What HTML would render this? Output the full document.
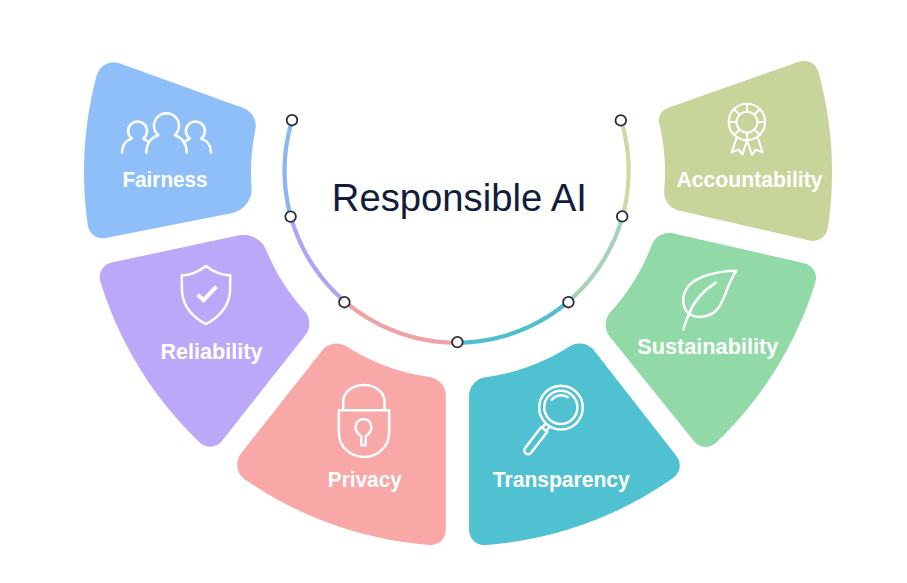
<!DOCTYPE html>
<html><head><meta charset="utf-8">
<style>
html,body{margin:0;padding:0;background:#fff;}
body{width:907px;height:583px;overflow:hidden;}
svg{display:block;}
text{font-family:"Liberation Sans",sans-serif;}
</style></head><body>
<svg width="907" height="583" viewBox="0 0 907 583">
<rect width="907" height="583" fill="#fff"/>
<path fill="#8ebff8" d="M231.4 213.3 L105.5 237.9 L105.5 237.9 L104.0 238.1 L102.5 238.2 L101.0 238.1 L99.5 237.9 L98.0 237.5 L96.6 236.9 L95.3 236.2 L94.0 235.4 L92.8 234.5 L91.7 233.4 L90.7 232.3 L89.9 231.0 L89.1 229.7 L88.6 228.3 L88.1 226.8 L87.8 225.3 L87.8 225.3 L87.6 223.8 L87.4 222.3 L87.2 220.8 L87.0 219.3 L86.8 217.8 L86.6 216.4 L86.5 214.9 L86.3 213.4 L86.1 211.9 L86.0 210.4 L85.8 208.9 L85.7 207.3 L85.5 205.8 L85.4 204.3 L85.3 202.8 L85.2 201.3 L85.0 199.8 L84.9 198.3 L84.8 196.8 L84.7 195.3 L84.6 193.8 L84.6 192.3 L84.5 190.8 L84.4 189.3 L84.3 187.8 L84.3 186.3 L84.2 184.8 L84.2 183.3 L84.1 181.7 L84.1 180.2 L84.1 178.7 L84.0 177.2 L84.0 175.7 L84.0 174.2 L84.0 172.7 L84.0 171.2 L84.0 169.7 L84.0 168.2 L84.0 166.7 L84.1 165.2 L84.1 163.6 L84.1 162.1 L84.2 160.6 L84.2 159.1 L84.3 157.6 L84.3 156.1 L84.4 154.6 L84.5 153.1 L84.6 151.6 L84.6 150.1 L84.7 148.6 L84.8 147.1 L84.9 145.6 L85.0 144.1 L85.2 142.5 L85.3 141.0 L85.4 139.5 L85.5 138.0 L85.7 136.5 L85.8 135.0 L86.0 133.5 L86.1 132.0 L86.3 130.5 L86.5 129.0 L86.7 127.5 L86.8 126.0 L87.0 124.5 L87.2 123.0 L87.4 121.5 L87.6 120.0 L87.8 118.6 L88.1 117.1 L88.3 115.6 L88.5 114.1 L88.7 112.6 L89.0 111.1 L89.2 109.6 L89.5 108.1 L89.8 106.6 L90.0 105.2 L90.3 103.7 L90.6 102.2 L90.9 100.7 L91.1 99.2 L91.4 97.7 L91.7 96.3 L92.1 94.8 L92.4 93.3 L92.7 91.8 L93.0 90.4 L93.4 88.9 L93.7 87.4 L94.0 86.0 L94.4 84.5 L94.7 83.0 L95.1 81.6 L95.5 80.1 L95.8 78.6 L96.2 77.2 L96.6 75.7 L96.6 75.7 L97.1 74.2 L97.7 72.8 L98.4 71.4 L99.2 70.0 L100.2 68.8 L101.3 67.6 L102.4 66.6 L103.7 65.6 L105.0 64.8 L106.4 64.0 L107.8 63.4 L109.3 63.0 L110.9 62.6 L112.4 62.4 L114.0 62.3 L115.6 62.4 L117.1 62.6 L118.6 63.0 L120.1 63.4 L243.2 108.1 L243.2 108.1 L244.6 108.7 L246.0 109.3 L247.2 110.1 L248.5 111.0 L249.6 112.0 L250.7 113.1 L251.7 114.2 L252.5 115.4 L253.3 116.7 L254.0 118.0 L254.6 119.4 L255.0 120.9 L255.4 122.3 L255.6 123.8 L255.7 125.3 L255.7 126.8 L255.6 128.3 L255.3 129.8 L255.3 129.8 L255.0 131.3 L254.7 132.8 L254.5 134.3 L254.2 135.8 L253.9 137.3 L253.7 138.8 L253.5 140.2 L253.2 141.7 L253.0 143.2 L252.8 144.7 L252.6 146.2 L252.4 147.7 L252.3 149.2 L252.1 150.7 L251.9 152.2 L251.8 153.8 L251.7 155.3 L251.6 156.8 L251.5 158.3 L251.4 159.8 L251.3 161.3 L251.2 162.8 L251.1 164.3 L251.1 165.8 L251.1 167.3 L251.0 168.9 L251.0 170.4 L251.0 171.9 L251.0 173.4 L251.0 174.9 L251.0 176.4 L251.1 177.9 L251.1 179.4 L251.2 180.9 L251.3 182.5 L251.3 184.0 L251.4 185.5 L251.5 187.0 L251.5 187.0 L251.6 188.5 L251.6 190.0 L251.5 191.5 L251.3 193.0 L251.0 194.5 L250.6 195.9 L250.1 197.4 L249.5 198.8 L248.9 200.1 L248.2 201.5 L247.4 202.7 L246.5 204.0 L245.5 205.1 L244.5 206.3 L243.4 207.3 L242.3 208.3 L241.1 209.2 L239.8 210.0 L238.5 210.8 L237.1 211.5 L235.7 212.1 L234.3 212.6 L232.9 213.0 L231.4 213.3Z"/>
<path fill="#bca8f9" d="M305.3 335.3 L221.9 441.0 L221.9 441.0 L220.9 442.2 L219.8 443.2 L218.5 444.2 L217.2 445.0 L215.8 445.6 L214.3 446.1 L212.8 446.5 L211.2 446.7 L209.7 446.7 L208.1 446.6 L206.6 446.3 L205.1 445.8 L203.6 445.2 L202.3 444.5 L201.0 443.6 L199.8 442.6 L199.8 442.6 L198.7 441.5 L197.6 440.5 L196.6 439.4 L195.5 438.4 L194.4 437.3 L193.3 436.3 L192.3 435.2 L191.2 434.1 L190.2 433.0 L189.1 432.0 L188.1 430.9 L187.0 429.8 L186.0 428.7 L185.0 427.6 L183.9 426.5 L182.9 425.4 L181.9 424.3 L180.9 423.2 L179.9 422.0 L178.9 420.9 L177.9 419.8 L176.9 418.7 L175.9 417.5 L174.9 416.4 L173.9 415.2 L172.9 414.1 L172.0 413.0 L171.0 411.8 L170.0 410.6 L169.1 409.5 L168.1 408.3 L167.2 407.1 L166.2 406.0 L165.3 404.8 L164.3 403.6 L163.4 402.4 L162.5 401.2 L161.6 400.0 L160.7 398.8 L159.7 397.6 L158.8 396.4 L157.9 395.2 L157.0 394.0 L156.1 392.8 L155.3 391.6 L154.4 390.4 L153.5 389.2 L152.6 387.9 L151.8 386.7 L150.9 385.5 L150.0 384.2 L149.2 383.0 L148.3 381.7 L147.5 380.5 L146.7 379.2 L145.8 378.0 L145.0 376.7 L144.2 375.5 L143.4 374.2 L142.6 372.9 L141.7 371.6 L140.9 370.4 L140.1 369.1 L139.4 367.8 L138.6 366.5 L137.8 365.2 L137.0 363.9 L136.2 362.6 L135.5 361.4 L134.7 360.1 L134.0 358.7 L133.2 357.4 L132.5 356.1 L131.7 354.8 L131.0 353.5 L130.3 352.2 L129.5 350.9 L128.8 349.5 L128.1 348.2 L127.4 346.9 L126.7 345.5 L126.0 344.2 L125.3 342.9 L124.6 341.5 L124.0 340.2 L123.3 338.8 L122.6 337.5 L121.9 336.1 L121.3 334.8 L120.6 333.4 L120.0 332.1 L119.3 330.7 L118.7 329.3 L118.1 328.0 L117.4 326.6 L116.8 325.2 L116.2 323.9 L115.6 322.5 L115.0 321.1 L114.4 319.7 L113.8 318.3 L113.2 316.9 L112.6 315.5 L112.1 314.2 L111.5 312.8 L110.9 311.4 L110.4 310.0 L109.8 308.6 L109.3 307.2 L108.7 305.8 L108.2 304.3 L107.7 302.9 L107.1 301.5 L106.6 300.1 L106.1 298.7 L105.6 297.3 L105.1 295.9 L104.6 294.4 L104.1 293.0 L103.6 291.6 L103.2 290.2 L102.7 288.7 L102.2 287.3 L101.8 285.9 L101.3 284.4 L100.8 283.0 L100.4 281.5 L100.4 281.5 L100.0 280.0 L99.8 278.5 L99.7 276.9 L99.8 275.4 L100.1 273.9 L100.5 272.4 L101.1 270.9 L101.8 269.5 L102.7 268.3 L103.7 267.1 L104.8 266.0 L106.0 265.0 L107.3 264.1 L108.7 263.4 L110.1 262.9 L111.6 262.5 L238.1 235.5 L238.1 235.5 L239.6 235.2 L241.1 235.0 L242.6 234.9 L244.1 234.9 L245.6 235.0 L247.1 235.2 L248.6 235.5 L250.1 235.9 L251.5 236.3 L252.9 236.8 L254.3 237.5 L255.6 238.2 L256.9 239.0 L258.2 239.8 L259.4 240.8 L260.5 241.8 L261.6 242.8 L262.6 244.0 L263.5 245.2 L264.3 246.4 L265.1 247.7 L265.8 249.1 L266.4 250.4 L266.4 250.4 L267.0 251.9 L267.6 253.3 L268.2 254.7 L268.8 256.1 L269.5 257.5 L270.1 258.8 L270.7 260.2 L271.4 261.6 L272.1 263.0 L272.7 264.3 L273.4 265.7 L274.1 267.1 L274.8 268.4 L275.5 269.8 L276.3 271.1 L277.0 272.4 L277.7 273.8 L278.5 275.1 L279.3 276.4 L280.0 277.7 L280.8 279.0 L281.6 280.3 L282.4 281.6 L283.2 282.9 L284.1 284.2 L284.9 285.5 L285.7 286.8 L286.6 288.0 L287.4 289.3 L288.3 290.5 L289.2 291.8 L290.1 293.0 L291.0 294.3 L291.9 295.5 L292.8 296.7 L293.7 297.9 L294.6 299.1 L295.6 300.3 L296.5 301.5 L297.5 302.7 L298.5 303.9 L299.4 305.1 L300.4 306.2 L301.4 307.4 L302.4 308.5 L303.4 309.7 L304.4 310.8 L304.4 310.8 L305.4 312.0 L306.3 313.3 L307.1 314.7 L307.8 316.1 L308.4 317.5 L308.8 319.0 L309.1 320.6 L309.3 322.1 L309.3 323.7 L309.3 325.3 L309.1 326.8 L308.7 328.4 L308.3 329.8 L307.7 331.3 L307.0 332.7 L306.2 334.0 L305.3 335.3Z"/>
<path fill="#f7a8a7" d="M445.8 395.8 L445.8 530.0 L445.8 530.0 L445.7 531.5 L445.5 533.0 L445.1 534.5 L444.5 536.0 L443.9 537.4 L443.0 538.7 L442.1 539.9 L441.0 541.0 L439.8 542.0 L438.5 542.8 L437.2 543.5 L435.7 544.1 L434.3 544.6 L432.7 544.8 L431.2 545.0 L429.7 544.9 L429.7 544.9 L428.2 544.8 L426.7 544.7 L425.2 544.6 L423.7 544.4 L422.2 544.3 L420.7 544.1 L419.2 544.0 L417.7 543.8 L416.2 543.7 L414.7 543.5 L413.2 543.3 L411.7 543.1 L410.2 542.9 L408.7 542.7 L407.3 542.5 L405.8 542.3 L404.3 542.1 L402.8 541.9 L401.3 541.7 L399.8 541.4 L398.3 541.2 L396.9 541.0 L395.4 540.7 L393.9 540.5 L392.4 540.2 L390.9 539.9 L389.5 539.7 L388.0 539.4 L386.5 539.1 L385.0 538.8 L383.6 538.5 L382.1 538.2 L380.6 537.9 L379.1 537.6 L377.7 537.3 L376.2 536.9 L374.7 536.6 L373.3 536.3 L371.8 535.9 L370.4 535.6 L368.9 535.2 L367.4 534.9 L366.0 534.5 L364.5 534.1 L363.1 533.8 L361.6 533.4 L360.2 533.0 L358.7 532.6 L357.3 532.2 L355.8 531.8 L354.4 531.4 L352.9 530.9 L351.5 530.5 L350.1 530.1 L348.6 529.6 L347.2 529.2 L345.7 528.8 L344.3 528.3 L342.9 527.8 L341.5 527.4 L340.0 526.9 L338.6 526.4 L337.2 525.9 L335.8 525.5 L334.3 525.0 L332.9 524.5 L331.5 524.0 L330.1 523.4 L328.7 522.9 L327.3 522.4 L325.9 521.9 L324.5 521.3 L323.1 520.8 L321.7 520.3 L320.3 519.7 L318.9 519.2 L317.5 518.6 L316.1 518.0 L314.7 517.5 L313.3 516.9 L311.9 516.3 L310.5 515.7 L309.2 515.1 L307.8 514.5 L306.4 513.9 L305.0 513.3 L303.7 512.7 L302.3 512.0 L300.9 511.4 L299.6 510.8 L298.2 510.1 L296.8 509.5 L295.5 508.8 L294.1 508.2 L292.8 507.5 L291.4 506.9 L290.1 506.2 L288.8 505.5 L287.4 504.8 L286.1 504.1 L284.8 503.5 L283.4 502.8 L282.1 502.1 L280.8 501.3 L279.4 500.6 L278.1 499.9 L276.8 499.2 L275.5 498.5 L274.2 497.7 L272.9 497.0 L271.6 496.2 L270.3 495.5 L269.0 494.7 L267.7 494.0 L266.4 493.2 L265.1 492.4 L263.8 491.6 L262.5 490.9 L261.3 490.1 L260.0 489.3 L258.7 488.5 L257.4 487.7 L256.2 486.9 L254.9 486.1 L253.6 485.2 L252.4 484.4 L251.1 483.6 L249.9 482.7 L248.6 481.9 L247.4 481.1 L246.2 480.2 L244.9 479.4 L244.9 479.4 L243.7 478.4 L242.5 477.4 L241.5 476.3 L240.5 475.0 L239.7 473.8 L239.0 472.4 L238.4 471.0 L237.9 469.5 L237.5 468.0 L237.3 466.5 L237.2 464.9 L237.2 463.4 L237.4 461.9 L237.7 460.3 L238.1 458.9 L238.7 457.4 L239.3 456.0 L240.1 454.7 L241.0 453.4 L321.7 350.9 L321.7 350.9 L322.7 349.7 L323.8 348.6 L325.0 347.6 L326.2 346.7 L327.6 345.9 L329.0 345.2 L330.4 344.7 L331.9 344.2 L333.4 343.9 L335.0 343.7 L336.5 343.6 L338.1 343.7 L339.6 343.9 L341.1 344.2 L342.6 344.6 L344.1 345.2 L345.5 345.8 L346.8 346.6 L346.8 346.6 L348.1 347.4 L349.4 348.2 L350.6 349.0 L351.9 349.8 L353.2 350.5 L354.5 351.3 L355.8 352.0 L357.1 352.8 L358.5 353.5 L359.8 354.2 L361.1 354.9 L362.4 355.6 L363.8 356.3 L365.1 357.0 L366.5 357.7 L367.8 358.3 L369.2 359.0 L370.5 359.6 L371.9 360.2 L373.3 360.9 L374.6 361.5 L376.0 362.1 L377.4 362.7 L378.8 363.2 L380.2 363.8 L381.6 364.4 L383.0 364.9 L384.4 365.5 L385.8 366.0 L387.2 366.5 L388.6 367.0 L390.0 367.5 L391.4 368.0 L392.9 368.5 L394.3 369.0 L395.7 369.4 L397.2 369.9 L398.6 370.3 L400.0 370.7 L401.5 371.1 L402.9 371.5 L404.4 371.9 L405.8 372.3 L407.3 372.7 L408.8 373.1 L410.2 373.4 L411.7 373.8 L413.2 374.1 L414.6 374.4 L416.1 374.7 L417.6 375.0 L419.0 375.3 L420.5 375.6 L422.0 375.8 L423.5 376.1 L425.0 376.3 L426.4 376.6 L427.9 376.8 L429.4 377.0 L429.4 377.0 L430.9 377.3 L432.4 377.7 L433.8 378.2 L435.2 378.8 L436.5 379.5 L437.8 380.3 L439.0 381.2 L440.1 382.3 L441.1 383.4 L442.1 384.5 L442.9 385.8 L443.7 387.1 L444.3 388.5 L444.8 389.9 L445.3 391.3 L445.6 392.8 L445.7 394.3 L445.8 395.8Z"/>
<path fill="#50c1d1" d="M594.5 350.9 L676.6 456.3 L676.6 456.3 L677.4 457.5 L678.2 458.9 L678.8 460.3 L679.2 461.7 L679.5 463.2 L679.7 464.7 L679.7 466.2 L679.6 467.7 L679.3 469.2 L678.8 470.7 L678.2 472.1 L677.5 473.4 L676.6 474.6 L675.6 475.8 L674.5 476.8 L673.4 477.8 L673.4 477.8 L672.1 478.6 L670.9 479.5 L669.6 480.4 L668.4 481.2 L667.1 482.1 L665.9 482.9 L664.6 483.7 L663.4 484.6 L662.1 485.4 L660.8 486.2 L659.6 487.0 L658.3 487.8 L657.0 488.7 L655.7 489.5 L654.5 490.2 L653.2 491.0 L651.9 491.8 L650.6 492.6 L649.3 493.4 L648.0 494.1 L646.7 494.9 L645.4 495.7 L644.1 496.4 L642.8 497.2 L641.5 497.9 L640.1 498.7 L638.8 499.4 L637.5 500.1 L636.2 500.8 L634.8 501.5 L633.5 502.3 L632.2 503.0 L630.8 503.7 L629.5 504.4 L628.2 505.1 L626.8 505.7 L625.5 506.4 L624.1 507.1 L622.8 507.8 L621.4 508.4 L620.0 509.1 L618.7 509.7 L617.3 510.4 L615.9 511.0 L614.6 511.6 L613.2 512.3 L611.8 512.9 L610.5 513.5 L609.1 514.1 L607.7 514.7 L606.3 515.3 L604.9 515.9 L603.5 516.5 L602.1 517.1 L600.7 517.7 L599.4 518.3 L598.0 518.8 L596.6 519.4 L595.1 519.9 L593.7 520.5 L592.3 521.0 L590.9 521.6 L589.5 522.1 L588.1 522.6 L586.7 523.2 L585.3 523.7 L583.8 524.2 L582.4 524.7 L581.0 525.2 L579.6 525.7 L578.1 526.2 L576.7 526.7 L575.3 527.1 L573.8 527.6 L572.4 528.1 L571.0 528.5 L569.5 529.0 L568.1 529.4 L566.6 529.9 L565.2 530.3 L563.8 530.7 L562.3 531.2 L560.9 531.6 L559.4 532.0 L557.9 532.4 L556.5 532.8 L555.0 533.2 L553.6 533.6 L552.1 534.0 L550.7 534.3 L549.2 534.7 L547.7 535.1 L546.3 535.4 L544.8 535.8 L543.3 536.1 L541.9 536.5 L540.4 536.8 L538.9 537.1 L537.4 537.5 L536.0 537.8 L534.5 538.1 L533.0 538.4 L531.5 538.7 L530.0 539.0 L528.6 539.3 L527.1 539.6 L525.6 539.8 L524.1 540.1 L522.6 540.4 L521.1 540.6 L519.6 540.9 L518.2 541.1 L516.7 541.4 L515.2 541.6 L513.7 541.8 L512.2 542.1 L510.7 542.3 L509.2 542.5 L507.7 542.7 L506.2 542.9 L504.7 543.1 L503.2 543.3 L501.7 543.4 L500.2 543.6 L498.7 543.8 L497.2 543.9 L495.7 544.1 L494.2 544.2 L492.7 544.4 L491.2 544.5 L489.7 544.7 L488.2 544.8 L486.7 544.9 L485.2 545.0 L485.2 545.0 L483.7 545.0 L482.1 544.9 L480.6 544.6 L479.1 544.2 L477.7 543.6 L476.3 542.9 L475.1 542.0 L473.9 541.0 L472.8 539.9 L471.9 538.7 L471.0 537.4 L470.3 536.0 L469.8 534.6 L469.4 533.1 L469.2 531.6 L469.1 530.0 L469.1 396.0 L469.1 396.0 L469.2 394.5 L469.3 393.0 L469.6 391.5 L470.1 390.0 L470.6 388.6 L471.2 387.2 L472.0 385.9 L472.8 384.7 L473.8 383.5 L474.8 382.4 L476.0 381.4 L477.2 380.4 L478.4 379.6 L479.8 378.9 L481.2 378.3 L482.6 377.8 L484.1 377.4 L485.6 377.2 L485.6 377.2 L487.1 376.9 L488.6 376.7 L490.1 376.5 L491.6 376.3 L493.1 376.0 L494.6 375.7 L496.1 375.5 L497.6 375.2 L499.1 374.9 L500.6 374.6 L502.1 374.3 L503.6 373.9 L505.0 373.6 L506.5 373.2 L508.0 372.9 L509.5 372.5 L511.0 372.1 L512.4 371.7 L513.9 371.3 L515.4 370.9 L516.8 370.5 L518.3 370.0 L519.7 369.6 L521.2 369.1 L522.6 368.6 L524.1 368.2 L525.5 367.7 L527.0 367.2 L528.4 366.7 L529.8 366.1 L531.3 365.6 L532.7 365.1 L534.1 364.5 L535.5 363.9 L536.9 363.4 L538.3 362.8 L539.7 362.2 L541.1 361.6 L542.5 361.0 L543.9 360.3 L545.3 359.7 L546.7 359.0 L548.0 358.4 L549.4 357.7 L550.8 357.0 L552.1 356.4 L553.5 355.7 L554.8 354.9 L556.2 354.2 L557.5 353.5 L558.9 352.8 L560.2 352.0 L561.5 351.3 L562.8 350.5 L564.1 349.7 L565.4 348.9 L566.7 348.1 L568.0 347.3 L569.3 346.5 L569.3 346.5 L570.7 345.7 L572.1 345.1 L573.5 344.5 L575.0 344.1 L576.6 343.8 L578.1 343.6 L579.7 343.5 L581.2 343.6 L582.8 343.8 L584.3 344.1 L585.8 344.6 L587.2 345.2 L588.6 345.9 L590.0 346.7 L591.2 347.6 L592.4 348.6 L593.5 349.7 L594.5 350.9Z"/>
<path fill="#91daa7" d="M673.6 233.4 L804.4 263.3 L804.4 263.3 L805.9 263.7 L807.3 264.3 L808.6 265.0 L809.9 265.9 L811.1 266.8 L812.2 267.9 L813.2 269.1 L814.0 270.4 L814.7 271.8 L815.3 273.2 L815.7 274.7 L815.9 276.2 L816.0 277.8 L816.0 279.3 L815.7 280.8 L815.4 282.3 L815.4 282.3 L814.9 283.8 L814.5 285.2 L814.0 286.6 L813.5 288.1 L813.1 289.5 L812.6 290.9 L812.1 292.3 L811.6 293.8 L811.1 295.2 L810.6 296.6 L810.1 298.0 L809.6 299.4 L809.1 300.8 L808.6 302.2 L808.1 303.7 L807.5 305.1 L807.0 306.5 L806.5 307.9 L805.9 309.3 L805.3 310.7 L804.8 312.0 L804.2 313.4 L803.7 314.8 L803.1 316.2 L802.5 317.6 L801.9 319.0 L801.3 320.4 L800.7 321.7 L800.1 323.1 L799.5 324.5 L798.9 325.9 L798.3 327.2 L797.6 328.6 L797.0 329.9 L796.4 331.3 L795.7 332.7 L795.1 334.0 L794.4 335.4 L793.8 336.7 L793.1 338.1 L792.4 339.4 L791.8 340.8 L791.1 342.1 L790.4 343.4 L789.7 344.8 L789.0 346.1 L788.3 347.4 L787.6 348.7 L786.9 350.1 L786.2 351.4 L785.4 352.7 L784.7 354.0 L784.0 355.3 L783.2 356.6 L782.5 357.9 L781.8 359.2 L781.0 360.5 L780.2 361.8 L779.5 363.1 L778.7 364.4 L777.9 365.7 L777.2 367.0 L776.4 368.3 L775.6 369.5 L774.8 370.8 L774.0 372.1 L773.2 373.4 L772.4 374.6 L771.5 375.9 L770.7 377.1 L769.9 378.4 L769.1 379.6 L768.2 380.9 L767.4 382.1 L766.5 383.4 L765.7 384.6 L764.8 385.8 L764.0 387.1 L763.1 388.3 L762.2 389.5 L761.4 390.7 L760.5 392.0 L759.6 393.2 L758.7 394.4 L757.8 395.6 L756.9 396.8 L756.0 398.0 L755.1 399.2 L754.2 400.4 L753.3 401.6 L752.3 402.7 L751.4 403.9 L750.5 405.1 L749.5 406.3 L748.6 407.4 L747.6 408.6 L746.7 409.8 L745.7 410.9 L744.8 412.1 L743.8 413.2 L742.8 414.4 L741.9 415.5 L740.9 416.7 L739.9 417.8 L738.9 418.9 L737.9 420.0 L736.9 421.2 L735.9 422.3 L734.9 423.4 L733.9 424.5 L732.9 425.6 L731.9 426.7 L730.8 427.8 L729.8 428.9 L728.8 430.0 L727.7 431.1 L726.7 432.2 L725.6 433.2 L724.6 434.3 L723.5 435.4 L722.5 436.4 L721.4 437.5 L720.3 438.6 L719.3 439.6 L718.2 440.7 L717.1 441.7 L716.0 442.7 L716.0 442.7 L714.9 443.7 L713.6 444.6 L712.2 445.4 L710.8 446.0 L709.3 446.4 L707.8 446.7 L706.2 446.9 L704.7 446.8 L703.2 446.7 L701.6 446.3 L700.2 445.8 L698.8 445.2 L697.4 444.4 L696.2 443.5 L695.0 442.4 L694.0 441.3 L609.8 336.7 L609.8 336.7 L608.8 335.4 L608.0 334.0 L607.3 332.6 L606.7 331.2 L606.2 329.6 L605.9 328.1 L605.6 326.5 L605.6 324.9 L605.6 323.3 L605.8 321.8 L606.1 320.2 L606.6 318.7 L607.1 317.2 L607.8 315.8 L608.6 314.4 L609.5 313.1 L610.6 311.9 L610.6 311.9 L611.6 310.8 L612.6 309.7 L613.6 308.5 L614.6 307.4 L615.6 306.2 L616.6 305.1 L617.5 303.9 L618.5 302.7 L619.4 301.6 L620.4 300.4 L621.3 299.2 L622.3 298.0 L623.2 296.8 L624.1 295.6 L625.0 294.3 L625.9 293.1 L626.8 291.9 L627.6 290.6 L628.5 289.4 L629.3 288.1 L630.2 286.9 L631.0 285.6 L631.9 284.3 L632.7 283.1 L633.5 281.8 L634.3 280.5 L635.1 279.2 L635.9 277.9 L636.6 276.6 L637.4 275.3 L638.1 274.0 L638.9 272.7 L639.6 271.3 L640.3 270.0 L641.0 268.7 L641.8 267.3 L642.4 266.0 L643.1 264.6 L643.8 263.3 L644.5 261.9 L645.1 260.5 L645.8 259.1 L646.4 257.8 L647.0 256.4 L647.6 255.0 L648.2 253.6 L648.8 252.2 L649.4 250.8 L650.0 249.4 L650.5 248.0 L651.1 246.6 L651.6 245.2 L651.6 245.2 L652.2 243.8 L652.9 242.4 L653.7 241.2 L654.6 239.9 L655.6 238.8 L656.7 237.7 L657.9 236.8 L659.1 235.9 L660.4 235.1 L661.8 234.5 L663.2 233.9 L664.7 233.5 L666.1 233.2 L667.6 233.0 L669.1 232.9 L670.7 232.9 L672.2 233.1 L673.6 233.4Z"/>
<path fill="#c7d59b" d="M667.5 108.1 L798.9 61.7 L798.9 61.7 L800.4 61.3 L801.9 61.0 L803.4 60.9 L804.9 60.9 L806.5 61.1 L808.0 61.4 L809.4 61.9 L810.8 62.6 L812.1 63.3 L813.4 64.3 L814.5 65.3 L815.5 66.4 L816.5 67.7 L817.2 69.0 L817.9 70.4 L818.3 71.9 L818.3 71.9 L818.7 73.3 L819.1 74.8 L819.5 76.2 L819.9 77.7 L820.3 79.1 L820.7 80.6 L821.0 82.0 L821.4 83.5 L821.7 84.9 L822.1 86.4 L822.4 87.9 L822.7 89.3 L823.1 90.8 L823.4 92.3 L823.7 93.7 L824.0 95.2 L824.3 96.7 L824.6 98.1 L824.9 99.6 L825.2 101.1 L825.5 102.6 L825.8 104.0 L826.0 105.5 L826.3 107.0 L826.6 108.5 L826.8 110.0 L827.1 111.4 L827.3 112.9 L827.5 114.4 L827.8 115.9 L828.0 117.4 L828.2 118.9 L828.4 120.4 L828.6 121.8 L828.8 123.3 L829.0 124.8 L829.2 126.3 L829.4 127.8 L829.6 129.3 L829.7 130.8 L829.9 132.3 L830.0 133.8 L830.2 135.3 L830.3 136.8 L830.5 138.3 L830.6 139.8 L830.7 141.2 L830.9 142.7 L831.0 144.2 L831.1 145.7 L831.2 147.2 L831.3 148.7 L831.4 150.2 L831.5 151.7 L831.5 153.2 L831.6 154.7 L831.7 156.2 L831.7 157.7 L831.8 159.2 L831.8 160.7 L831.9 162.2 L831.9 163.7 L831.9 165.2 L832.0 166.7 L832.0 168.2 L832.0 169.8 L832.0 171.3 L832.0 172.8 L832.0 174.3 L832.0 175.8 L832.0 177.3 L831.9 178.8 L831.9 180.3 L831.9 181.8 L831.8 183.3 L831.8 184.8 L831.7 186.3 L831.7 187.8 L831.6 189.3 L831.5 190.8 L831.5 192.3 L831.4 193.8 L831.3 195.3 L831.2 196.8 L831.1 198.3 L831.0 199.8 L830.9 201.3 L830.7 202.8 L830.6 204.3 L830.5 205.8 L830.3 207.2 L830.2 208.7 L830.0 210.2 L829.9 211.7 L829.7 213.2 L829.6 214.7 L829.4 216.2 L829.2 217.7 L829.0 219.2 L828.8 220.7 L828.6 222.2 L828.4 223.7 L828.2 225.1 L828.0 226.6 L827.8 228.1 L827.8 228.1 L827.5 229.6 L827.0 231.1 L826.4 232.5 L825.6 233.9 L824.7 235.1 L823.7 236.3 L822.6 237.3 L821.4 238.3 L820.1 239.1 L818.7 239.7 L817.2 240.2 L815.7 240.6 L814.2 240.8 L812.6 240.9 L811.1 240.8 L809.6 240.5 L678.9 210.6 L678.9 210.6 L677.4 210.2 L676.0 209.7 L674.6 209.0 L673.3 208.3 L672.0 207.5 L670.8 206.5 L669.7 205.5 L668.7 204.4 L667.7 203.2 L666.9 202.0 L666.2 200.6 L665.5 199.3 L665.0 197.8 L664.6 196.4 L664.3 194.9 L664.2 193.4 L664.1 191.9 L664.2 190.4 L664.2 190.4 L664.3 188.8 L664.4 187.3 L664.5 185.8 L664.6 184.2 L664.7 182.7 L664.8 181.2 L664.9 179.7 L664.9 178.1 L664.9 176.6 L665.0 175.1 L665.0 173.5 L665.0 172.0 L665.0 170.5 L665.0 168.9 L664.9 167.4 L664.9 165.9 L664.9 164.3 L664.8 162.8 L664.7 161.3 L664.6 159.7 L664.5 158.2 L664.4 156.7 L664.3 155.2 L664.2 153.6 L664.0 152.1 L663.9 150.6 L663.7 149.1 L663.5 147.5 L663.4 146.0 L663.2 144.5 L663.0 143.0 L662.7 141.5 L662.5 139.9 L662.3 138.4 L662.0 136.9 L661.7 135.4 L661.5 133.9 L661.2 132.4 L660.9 130.9 L660.6 129.4 L660.2 127.9 L659.9 126.4 L659.6 124.9 L659.2 123.4 L659.2 123.4 L658.9 121.8 L658.9 120.3 L659.0 118.7 L659.3 117.1 L659.8 115.6 L660.4 114.2 L661.3 112.8 L662.3 111.6 L663.4 110.5 L664.7 109.5 L666.1 108.7 L667.5 108.1Z"/>
<path fill="none" stroke="#8ab7f1" stroke-width="4.2" d="M292.2 120.3 L291.7 121.7 L291.3 123.1 L290.9 124.6 L290.5 126.0 L290.1 127.5 L289.7 128.9 L289.4 130.4 L289.0 131.8 L288.7 133.3 L288.4 134.8 L288.1 136.2 L287.8 137.7 L287.5 139.2 L287.2 140.7 L287.0 142.2 L286.7 143.6 L286.5 145.1 L286.3 146.6 L286.1 148.1 L285.9 149.6 L285.7 151.1 L285.6 152.6 L285.4 154.1 L285.3 155.6 L285.1 157.1 L285.0 158.5 L284.9 160.0 L284.8 161.5 L284.8 163.0 L284.7 164.5 L284.7 166.0 L284.6 167.5 L284.6 169.0 L284.6 170.6 L284.6 172.1 L284.6 173.6 L284.7 175.1 L284.7 176.6 L284.8 178.1 L284.8 179.6 L284.9 181.1 L285.0 182.6 L285.1 184.1 L285.2 185.5 L285.4 187.0 L285.5 188.5 L285.7 190.0 L285.9 191.5 L286.1 193.0 L286.3 194.5 L286.5 196.0 L286.7 197.5 L286.9 199.0 L287.2 200.4 L287.5 201.9 L287.7 203.4 L288.0 204.9 L288.3 206.3 L288.6 207.8 L289.0 209.3 L289.3 210.7 L289.7 212.2 L290.0 213.6 L290.4 215.1 L290.8 216.5"/>
<path fill="none" stroke="#b2a2f2" stroke-width="4.2" d="M290.8 216.5 L291.2 218.0 L291.6 219.4 L292.1 220.9 L292.5 222.3 L293.0 223.7 L293.5 225.2 L293.9 226.6 L294.4 228.0 L294.9 229.4 L295.5 230.8 L296.0 232.2 L296.5 233.7 L297.1 235.0 L297.7 236.4 L298.2 237.8 L298.8 239.2 L299.4 240.6 L300.1 242.0 L300.7 243.3 L301.3 244.7 L302.0 246.0 L302.6 247.4 L303.3 248.7 L304.0 250.1 L304.7 251.4 L305.4 252.7 L306.1 254.0 L306.9 255.4 L307.6 256.7 L308.4 258.0 L309.2 259.3 L309.9 260.5 L310.7 261.8 L311.5 263.1 L312.3 264.4 L313.2 265.6 L314.0 266.9 L314.8 268.1 L315.7 269.3 L316.6 270.6 L317.4 271.8 L318.3 273.0 L319.2 274.2 L320.1 275.4 L321.1 276.6 L322.0 277.8 L322.9 279.0 L323.9 280.1 L324.9 281.3 L325.8 282.4 L326.8 283.6 L327.8 284.7 L328.8 285.8 L329.8 286.9 L330.8 288.0 L331.9 289.1 L332.9 290.2 L334.0 291.3 L335.0 292.4 L336.1 293.4 L337.2 294.5 L338.3 295.5 L339.3 296.5 L340.5 297.6 L341.6 298.6 L342.7 299.6 L343.8 300.6 L345.0 301.5"/>
<path fill="none" stroke="#efa1a6" stroke-width="4.2" d="M345.0 301.5 L346.1 302.5 L347.3 303.5 L348.4 304.4 L349.6 305.4 L350.8 306.3 L352.0 307.2 L353.2 308.2 L354.4 309.1 L355.6 309.9 L356.9 310.8 L358.1 311.7 L359.3 312.6 L360.6 313.4 L361.8 314.2 L363.1 315.1 L364.4 315.9 L365.7 316.7 L366.9 317.5 L368.2 318.3 L369.5 319.0 L370.8 319.8 L372.1 320.5 L373.5 321.3 L374.8 322.0 L376.1 322.7 L377.5 323.4 L378.8 324.1 L380.2 324.8 L381.5 325.4 L382.9 326.1 L384.2 326.7 L385.6 327.4 L387.0 328.0 L388.4 328.6 L389.8 329.2 L391.2 329.8 L392.6 330.3 L394.0 330.9 L395.4 331.4 L396.8 332.0 L398.2 332.5 L399.6 333.0 L401.0 333.5 L402.5 334.0 L403.9 334.4 L405.3 334.9 L406.8 335.3 L408.2 335.8 L409.7 336.2 L411.1 336.6 L412.6 337.0 L414.1 337.4 L415.5 337.7 L417.0 338.1 L418.5 338.4 L419.9 338.7 L421.4 339.1 L422.9 339.4 L424.4 339.7 L425.9 339.9 L427.3 340.2 L428.8 340.4 L430.3 340.7 L431.8 340.9 L433.3 341.1 L434.8 341.3 L436.3 341.5 L437.8 341.7 L439.3 341.8 L440.8 342.0 L442.3 342.1 L443.8 342.2 L445.3 342.3 L446.8 342.4 L448.3 342.5 L449.9 342.6 L451.4 342.6 L452.9 342.7 L454.4 342.7 L455.9 342.7 L457.4 342.7"/>
<path fill="none" stroke="#4fbfcd" stroke-width="4.2" d="M457.4 342.7 L458.9 342.7 L460.4 342.7 L461.9 342.6 L463.4 342.6 L464.9 342.5 L466.4 342.4 L467.9 342.3 L469.4 342.2 L470.9 342.1 L472.4 342.0 L473.9 341.8 L475.4 341.7 L476.9 341.5 L478.4 341.3 L479.9 341.1 L481.4 340.9 L482.9 340.7 L484.4 340.4 L485.9 340.2 L487.3 339.9 L488.8 339.7 L490.3 339.4 L491.8 339.1 L493.2 338.8 L494.7 338.4 L496.2 338.1 L497.6 337.7 L499.1 337.4 L500.6 337.0 L502.0 336.6 L503.5 336.2 L504.9 335.8 L506.3 335.4 L507.8 334.9 L509.2 334.5 L510.6 334.0 L512.1 333.5 L513.5 333.0 L514.9 332.5 L516.3 332.0 L517.7 331.5 L519.1 330.9 L520.5 330.4 L521.9 329.8 L523.3 329.2 L524.7 328.6 L526.1 328.0 L527.5 327.4 L528.8 326.8 L530.2 326.2 L531.5 325.5 L532.9 324.8 L534.2 324.2 L535.6 323.5 L536.9 322.8 L538.2 322.1 L539.6 321.4 L540.9 320.6 L542.2 319.9 L543.5 319.1 L544.8 318.4 L546.1 317.6 L547.4 316.8 L548.6 316.0 L549.9 315.2 L551.2 314.4 L552.4 313.5 L553.7 312.7 L554.9 311.8 L556.1 311.0 L557.4 310.1 L558.6 309.2 L559.8 308.3 L561.0 307.4 L562.2 306.5 L563.4 305.6 L564.5 304.6 L565.7 303.7 L566.9 302.7 L568.0 301.7"/>
<path fill="none" stroke="#a6d2ba" stroke-width="4.2" d="M568.0 301.7 L569.2 300.8 L570.3 299.8 L571.4 298.8 L572.5 297.7 L573.7 296.7 L574.8 295.7 L575.8 294.7 L576.9 293.6 L578.0 292.5 L579.1 291.5 L580.1 290.4 L581.2 289.3 L582.2 288.2 L583.2 287.1 L584.3 286.0 L585.3 284.9 L586.3 283.7 L587.2 282.6 L588.2 281.4 L589.2 280.3 L590.1 279.1 L591.1 277.9 L592.0 276.7 L593.0 275.5 L593.9 274.3 L594.8 273.1 L595.7 271.9 L596.5 270.7 L597.4 269.5 L598.3 268.2 L599.1 267.0 L600.0 265.7 L600.8 264.5 L601.6 263.2 L602.4 261.9 L603.2 260.6 L604.0 259.3 L604.8 258.0 L605.5 256.7 L606.3 255.4 L607.0 254.1 L607.7 252.8 L608.5 251.5 L609.2 250.1 L609.9 248.8 L610.5 247.4 L611.2 246.1 L611.9 244.7 L612.5 243.3 L613.1 242.0 L613.8 240.6 L614.4 239.2 L615.0 237.8 L615.5 236.4 L616.1 235.0 L616.7 233.6 L617.2 232.2 L617.8 230.8 L618.3 229.4 L618.8 228.0 L619.3 226.6 L619.8 225.1 L620.2 223.7 L620.7 222.2 L621.1 220.8 L621.6 219.4 L622.0 217.9 L622.4 216.5"/>
<path fill="none" stroke="#ccd9a2" stroke-width="4.2" d="M622.4 216.5 L622.8 215.0 L623.2 213.5 L623.6 212.0 L623.9 210.6 L624.3 209.1 L624.6 207.6 L624.9 206.1 L625.2 204.6 L625.5 203.1 L625.8 201.6 L626.1 200.1 L626.3 198.6 L626.6 197.1 L626.8 195.6 L627.0 194.1 L627.2 192.6 L627.4 191.1 L627.6 189.6 L627.7 188.1 L627.9 186.5 L628.0 185.0 L628.1 183.5 L628.2 182.0 L628.3 180.5 L628.4 178.9 L628.5 177.4 L628.5 175.9 L628.6 174.4 L628.6 172.9 L628.6 171.3 L628.6 169.8 L628.6 168.3 L628.6 166.8 L628.5 165.2 L628.5 163.7 L628.4 162.2 L628.3 160.7 L628.2 159.2 L628.1 157.6 L628.0 156.1 L627.8 154.6 L627.7 153.1 L627.5 151.6 L627.4 150.1 L627.2 148.6 L627.0 147.1 L626.8 145.5 L626.5 144.0 L626.3 142.5 L626.0 141.0 L625.8 139.5 L625.5 138.0 L625.2 136.5 L624.9 135.1 L624.5 133.6 L624.2 132.1 L623.9 130.6 L623.5 129.1 L623.1 127.6 L622.7 126.2 L622.3 124.7 L621.9 123.2 L621.5 121.8 L621.1 120.3"/>
<circle cx="292.0" cy="120.2" r="5.3" fill="#fff" stroke="#2b2d3a" stroke-width="1.8"/>
<circle cx="290.6" cy="216.6" r="5.3" fill="#fff" stroke="#2b2d3a" stroke-width="1.8"/>
<circle cx="344.4" cy="302.2" r="5.3" fill="#fff" stroke="#2b2d3a" stroke-width="1.8"/>
<circle cx="457.4" cy="342.1" r="5.3" fill="#fff" stroke="#2b2d3a" stroke-width="1.8"/>
<circle cx="568.4" cy="302.2" r="5.3" fill="#fff" stroke="#2b2d3a" stroke-width="1.8"/>
<circle cx="622.2" cy="216.4" r="5.3" fill="#fff" stroke="#2b2d3a" stroke-width="1.8"/>
<circle cx="620.8" cy="120.4" r="5.3" fill="#fff" stroke="#2b2d3a" stroke-width="1.8"/>
<g fill="none" stroke="#fff" stroke-width="2.5" stroke-linejoin="round" stroke-linecap="round">
<!-- people -->
<path d="M146.3,152.5 C146.3,144.5 150.5,138 158.3,135.1 A12.5,12.5 0 1 1 174.7,135.1 C182.5,138 186.7,144.5 186.7,152.5"/>
<path d="M122,152.5 C122,146 125.5,140.5 131.9,138.6 A9.5,9.5 0 1 1 143.3,138.6 L147.6,141.2"/>
<path d="M211,152.5 C211,146 207.5,140.5 201.1,138.6 A9.5,9.5 0 1 0 189.7,138.6 L185.4,141.2"/>
<!-- shield -->
<path d="M205.9,266 C199,271.5 190,275 181.7,275.6 L182,291 C182.5,306 193,317.5 205.9,324.2 C218.8,317.5 229.5,306 230,291 L230.3,275.6 C222,275 212.8,271.5 205.9,266 Z"/>
<path d="M197.6,294.8 L203.6,300.2 L216.4,286.6" stroke-width="4" stroke-linecap="butt" stroke-linejoin="miter"/>
<!-- lock -->
<path d="M343.2,409.7 L343.2,401 A20.65,16 0 0 1 384.5,401 L384.5,409.7"/>
<path d="M338.9,410.2 L389.1,410.2 L389.1,433 A25.1,24 0 0 1 338.9,433 Z"/>
<path d="M361.3,445.3 L361.3,436.2 C358,434.2 355.5,431 355.5,427.1 A8,8 0 1 1 371.5,427.1 C371.5,431 369,434.2 365.7,436.2 L365.7,445.3 Z"/>
<!-- magnifier -->
<circle cx="561" cy="407.6" r="21.8"/>
<circle cx="560.8" cy="407.3" r="16.6"/>
<path d="M551.6,399.8 A12.5,12.5 0 0 1 567.8,397.2"/>
<g transform="translate(561,407.6) rotate(127.5)">
<path d="M27.5,-3.8 L54,-3.8 A3.8,3.8 0 0 1 54,3.8 L27.5,3.8 Z"/>
<path d="M21.8,-2.6 L27.5,-2.6 M21.8,2.6 L27.5,2.6"/>
</g>
<!-- leaf -->
<path d="M736.3,270.7 C718,271 697,276 688.5,286 C680.5,296 682,309 690,314.5 C698,319.5 713,316.5 719,307 C726,297 727,284 736.3,270.7 Z"/>
<path d="M715.7,282.6 C703,291 693,303 689,314 C686,321 684.5,325 683.5,329.5"/>
<!-- rosette -->
<g stroke-width="2.1">
<circle cx="746.9" cy="121.9" r="18.2"/>
<circle cx="747" cy="122.2" r="10.4"/>
<path d="M747,111.8 V103.7 M747,132.6 V140.1 M736.6,122 H728.7 M757.4,122 H765.1 M739.6,114.6 L734,109 M754.4,114.6 L760,109 M739.6,129.4 L734,135 M754.4,129.4 L760,135"/>
<path d="M736.7,137.4 L731.7,152.4 L738.4,149.6 L742.3,154.6 L747,140.5 L752,154.6 L755.9,149.6 L762.6,152.4 L757.6,137.4"/>
</g>
</g>
<g fill="#fff" font-weight="bold" font-size="22.6">
<text x="122.5" y="186.5" textLength="85" lengthAdjust="spacingAndGlyphs">Fairness</text>
<text x="160.5" y="359.1" textLength="102" lengthAdjust="spacingAndGlyphs">Reliability</text>
<text x="327.8" y="486.8" textLength="74" lengthAdjust="spacingAndGlyphs">Privacy</text>
<text x="492.8" y="487.3" textLength="137" lengthAdjust="spacingAndGlyphs">Transparency</text>
<text x="637.3" y="353.8" textLength="141" lengthAdjust="spacingAndGlyphs">Sustainability</text>
<text x="676.5" y="186.5" textLength="146" lengthAdjust="spacingAndGlyphs">Accountability</text>
</g>
<text x="331.8" y="211.3" font-size="39.2" fill="#131c3a" textLength="255" lengthAdjust="spacingAndGlyphs">Responsible AI</text>

</svg>
</body></html>
